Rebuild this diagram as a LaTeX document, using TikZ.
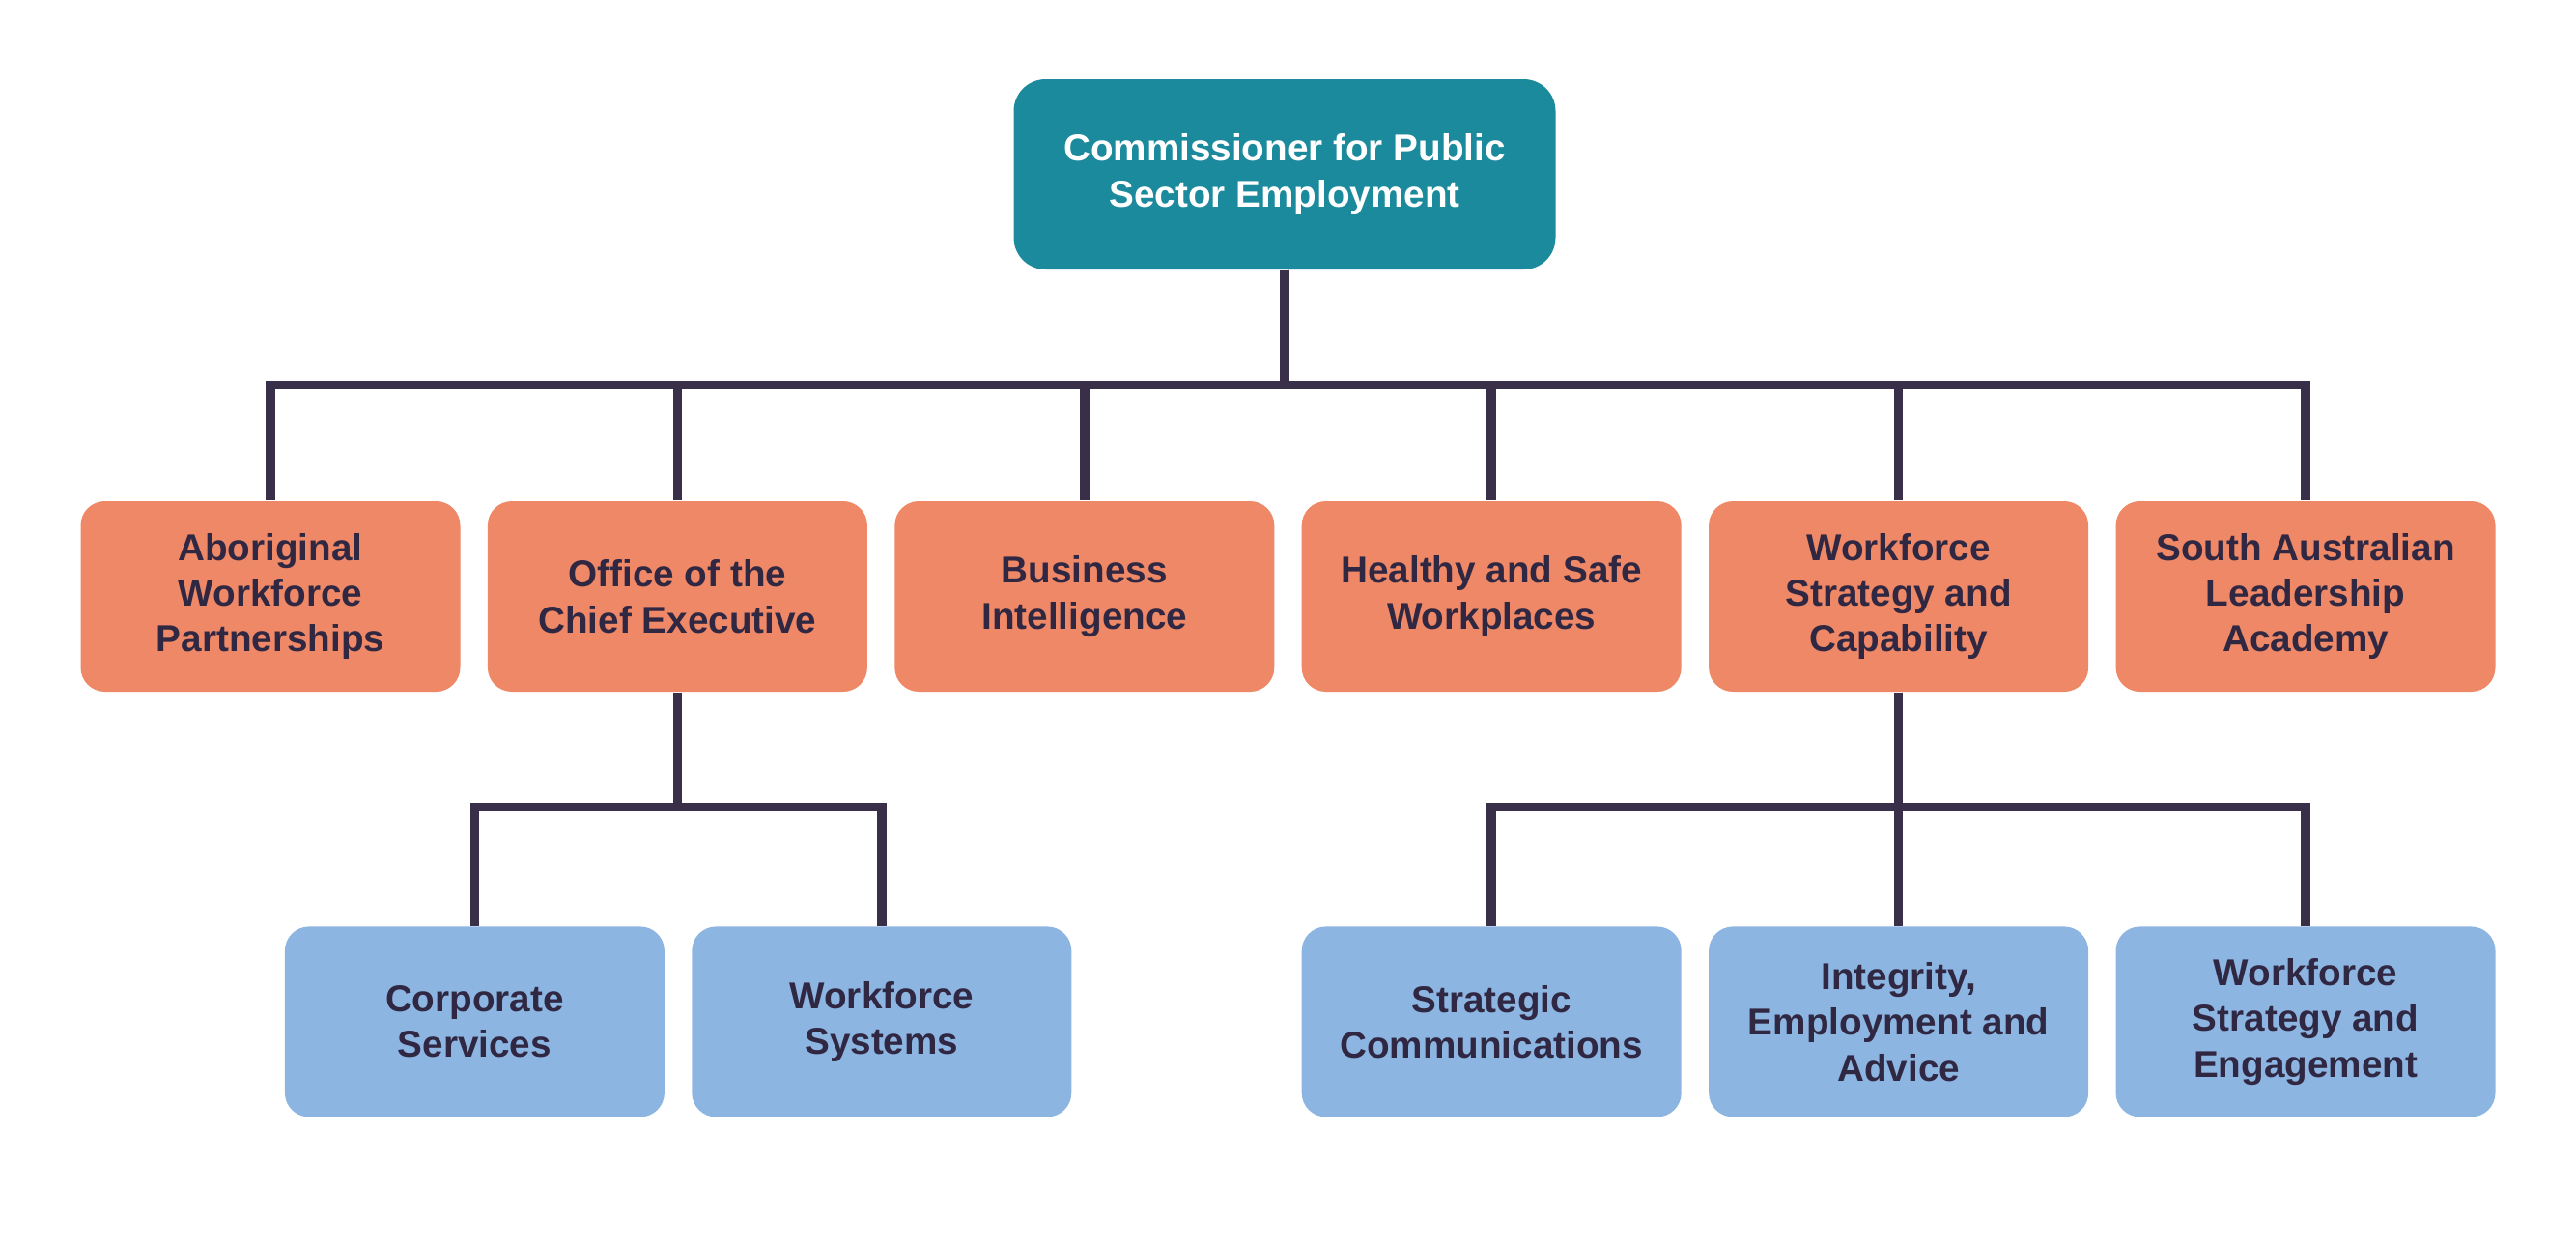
\documentclass[tikz,border=0pt]{standalone}
\usepackage{fontspec}
\setmainfont{Liberation Sans}
\usepackage{tikz}
\usetikzlibrary{positioning}
\definecolor{cTeal}{HTML}{1B8A9C}
\definecolor{cSalmon}{HTML}{EE8866}
\definecolor{cSky}{HTML}{8DB5E2}
\definecolor{cInk}{HTML}{302843}
\definecolor{cLine}{HTML}{3A2F48}
\tikzset{
  box/.style={
    rectangle, rounded corners=0.25cm, draw=none, fill=#1,
    minimum width=3.93cm, minimum height=1.97cm, inner sep=0pt,
    align=center, text=cInk,
    font=\fontsize{11}{13.5}\selectfont\bfseries
  },
  tbox/.style={box=cTeal, text=white, rounded corners=0.33cm,
    minimum width=5.61cm},
  obox/.style={box=cSalmon},
  bbox/.style={box=cSky},
  link/.style={draw=cLine, line width=2.7pt},
}
\begin{document}
\begin{tikzpicture}[node distance=0.27cm]
  \useasboundingbox (0,0) rectangle (26.67,-12.87);

  % Level 0: commissioner
  \node[tbox] (ceo) at (13.30,-1.805) {Commissioner for Public\\Sector Employment};

  % Level 1: branches
  \node[obox] (awp) at (2.80,-6.175) {Aboriginal\\Workforce\\Partnerships};
  \node[obox, right=of awp] (oce)  {Office of the\\Chief Executive};
  \node[obox, right=of oce] (bi)   {Business\\Intelligence};
  \node[obox, right=of bi]  (hsw)  {Healthy and Safe\\Workplaces};
  \node[obox, right=of hsw] (wsc)  {Workforce\\Strategy and\\Capability};
  \node[obox, right=of wsc] (sala) {South Australian\\Leadership\\Academy};

  % Level 2: units
  \node[bbox, below=2.42cm of oce, xshift=-2.10cm] (cs) {Corporate\\Services};
  \node[bbox, right=of cs] (ws) {Workforce\\Systems};
  \node[bbox, below=2.42cm of hsw] (sc)  {Strategic\\Communications};
  \node[bbox, right=of sc]         (iea) {Integrity,\\Employment and\\Advice};
  \node[bbox, right=of iea]        (wse) {Workforce\\Strategy and\\Engagement};

  % Connectors
  \foreach \n in {awp,oce,bi,hsw,wsc,sala}
    \draw[link] (ceo.south) -- ++(0,-1.19) -| (\n.north);
  \foreach \n in {cs,ws}
    \draw[link] (oce.south) -- ++(0,-1.19) -| (\n.north);
  \foreach \n in {sc,iea,wse}
    \draw[link] (wsc.south) -- ++(0,-1.19) -| (\n.north);

\end{tikzpicture}
\end{document}
